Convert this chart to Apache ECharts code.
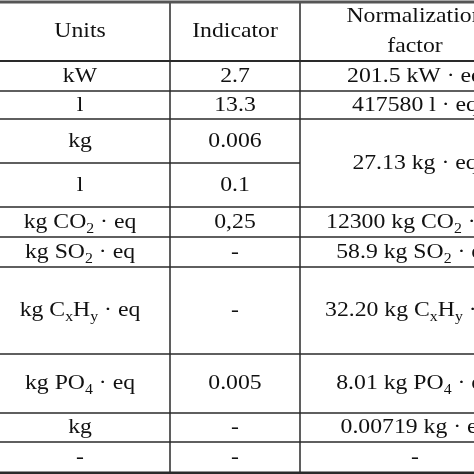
<!DOCTYPE html>
<html><head><meta charset="utf-8">
<script src="https://cdn.jsdelivr.net/npm/echarts@6/dist/echarts.min.js"></script>
<style>html,body{margin:0;padding:0;background:#fff}#c{width:474px;height:474px}</style>
</head><body><div id="c"></div>
<script>
// Table content
var units = ['Units','kW','l','kg','l','kg CO{s|2} · eq','kg SO{s|2} · eq','kg C{s|x}H{s|y} · eq','kg PO{s|4} · eq','kg','-'];
var indicators = ['Indicator','2.7','13.3','0.006','0.1','0,25','-','-','0.005','-','-'];
var factors = ['Normalization\nfactor','201.5 kW · eq','417580 l · eq','27.13 kg · eq',null,'12300 kg CO{s|2} · eq','58.9 kg SO{s|2} · eq','32.20 kg C{s|x}H{s|y} · eq','8.01 kg PO{s|4} · eq','0.00719 kg · eq','-'];
var factorSpan = [1,1,1,2,0,1,1,1,1,1,1];

// layout
var colEdges = [-10,170,300,530];
var rowEdges = [2,61,91,119,163,207,237,267,354,413,442,473];

var cells = [];
[units, indicators, factors].forEach(function(col, ci){
  col.forEach(function(t, ri){
    if (t === null) return;
    var span = ci === 2 ? factorSpan[ri] : 1;
    cells.push([ci, ri, ri + span, t]);
  });
});

var FONT = '"Liberation Serif","Times New Roman",serif';
var chart = echarts.init(document.getElementById('c'));
chart.setOption({
  animation:false,
  backgroundColor:'#fff',
  grid:{left:0,right:0,top:0,bottom:0},
  xAxis:{type:'value',min:0,max:474,show:false},
  yAxis:{type:'value',min:0,max:474,inverse:true,show:false},
  series:[{
    type:'custom',
    data:cells,
    clip:false,
    renderItem:function(params, api){
      var ci = api.value(0), r0 = api.value(1), r1 = api.value(2);
      var t = cells[params.dataIndex][3];
      var p0 = api.coord([colEdges[ci], rowEdges[r0]]);
      var p1 = api.coord([colEdges[ci+1], rowEdges[r1]]);
      var cx = (p0[0]+p1[0])/2, cy = (p0[1]+p1[1])/2;
      if (ci === 2) cx = 415;
      var lw = r1 === 1 ? 2 : (r1 === rowEdges.length-1 ? 3 : 1.5);
      var kids = [
        {type:'line',shape:{x1:p0[0],y1:p1[1],x2:p1[0],y2:p1[1]},style:{stroke:'#2a2a2a',lineWidth:lw}},
        {type:'line',shape:{x1:p1[0],y1:p0[1],x2:p1[0],y2:p1[1]},style:{stroke:'#2a2a2a',lineWidth:1.5}},
        {type:'text',x:cx,y:cy,scaleX:1.13,style:{
          text:t,x:0,y:0,align:'center',verticalAlign:'middle',
          font:'21px '+FONT,fill:'#111',lineHeight:30,
          rich:{s:{fontSize:14,fontFamily:FONT,lineHeight:30,verticalAlign:'bottom',padding:[0,0,1,0]}}
        }}
      ];
      if (r0 === 0) kids.push({type:'line',shape:{x1:p0[0],y1:p0[1],x2:p1[0],y2:p0[1]},style:{stroke:'#555',lineWidth:3}});
      return {type:'group',children:kids};
    }
  }]
});
</script></body></html>
